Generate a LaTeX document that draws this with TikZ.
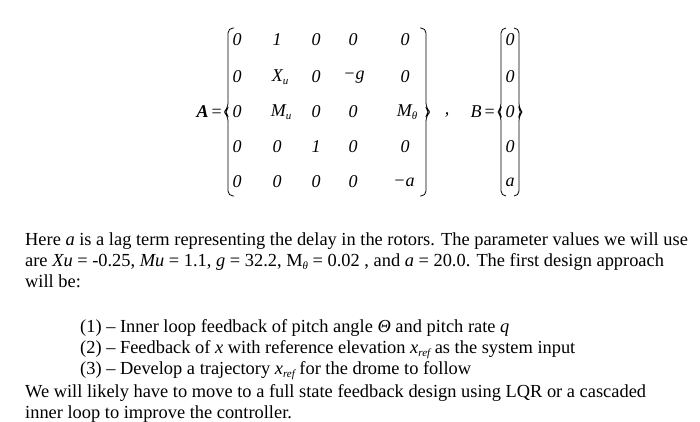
\documentclass[tikz,border=0pt]{standalone}
\usepackage{fontspec}
\setmainfont{Liberation Serif}
\newcommand{\sbx}[1]{\raisebox{-3pt}{\fontsize{11}{12}\selectfont\itshape #1}}
\begin{document}
\begin{tikzpicture}[x=1pt,y=-1pt,
  ent/.style={font=\fontsize{18}{20}\selectfont\itshape, inner sep=0pt, anchor=center},
  txt/.style={font=\fontsize{18.4}{21}\selectfont, inner sep=0pt, anchor=base west},
  brk/.style={line width=0.8pt, rounded corners=5pt}]
\useasboundingbox (0,0) rectangle (700,422);
% A matrix entries
\node[ent] (a11) at (237,40) {0}; \node[ent] (a12) at (277,40) {1}; \node[ent] (a13) at (316,40) {0}; \node[ent] (a14) at (353,40) {0}; \node[ent] (a15) at (405,40) {0};
\node[ent] (a21) at (237,77) {0}; \node[ent] (a22) at (280,77) {X\sbx{u}}; \node[ent] (a23) at (316,77) {0}; \node[ent] (a24) at (354,77) {−g}; \node[ent] (a25) at (405,77) {0};
\node[ent] (a31) at (237,112) {0}; \node[ent] (a32) at (281,112) {M\sbx{u}}; \node[ent] (a33) at (316,112) {0}; \node[ent] (a34) at (353,112) {0}; \node[ent] (a35) at (407,112) {M\sbx{θ}};
\node[ent] (a41) at (237,147) {0}; \node[ent] (a42) at (277,147) {0}; \node[ent] (a43) at (316,147) {1}; \node[ent] (a44) at (353,147) {0}; \node[ent] (a45) at (405,147) {0};
\node[ent] (a51) at (237,182) {0}; \node[ent] (a52) at (277,182) {0}; \node[ent] (a53) at (316,182) {0}; \node[ent] (a54) at (353,182) {0}; \node[ent] (a55) at (404,182) {−a};
\node[ent, anchor=east, font=\fontsize{18}{20}\selectfont\bfseries\itshape] (Alab) at (222,112) {A\,\upshape\mdseries =};
% A brackets
\draw[brk] (234,28) -- (228,28) -- (228,108) -- (224,112) -- (228,116) -- (228,196) -- (234,196);
\draw[brk] (420,28) -- (426,28) -- (426,108) -- (430,112) -- (426,116) -- (426,196) -- (420,196);
\node[ent] (comma) at (447,115) {,};
\node[ent, anchor=east] (Blab) at (495,112) {B\,\upshape =};
\draw[brk] (506,28) -- (501,28) -- (501,108) -- (498,112) -- (501,116) -- (501,196) -- (506,196);
\draw[brk] (514,28) -- (519,28) -- (519,108) -- (522,112) -- (519,116) -- (519,196) -- (514,196);
\node[ent] (b1) at (510,40) {0}; \node[ent] (b2) at (510,77) {0}; \node[ent] (b3) at (510,112) {0}; \node[ent] (b4) at (510,147) {0}; \node[ent] (b5) at (510,182) {a};
% text
\node[txt] (t1) at (25,245) {Here \textit{a} is a lag term representing the delay in the rotors. The parameter values we will use};
\node[txt] (t2) at (25,266) {are \textit{Xu} = -0.25, \textit{Mu} = 1.1, \textit{g} = 32.2, M\sbx{θ} = 0.02 , and \textit{a} = 20.0. The first design approach};
\node[txt] (t3) at (25,287) {will be:};
\node[txt] (i1) at (80,332) {(1) – Inner loop feedback of pitch angle \textit{Θ} and pitch rate \textit{q}};
\node[txt] (i2) at (80,353) {(2) – Feedback of \textit{x} with reference elevation \textit{x}\sbx{ref} as the system input};
\node[txt] (i3) at (80,374) {(3) – Develop a trajectory \textit{x}\sbx{ref} for the drome to follow};
\node[txt] (p1) at (25,397) {We will likely have to move to a full state feedback design using LQR or a cascaded};
\node[txt] (p2) at (25,418) {inner loop to improve the controller.};
\end{tikzpicture}
\end{document}
